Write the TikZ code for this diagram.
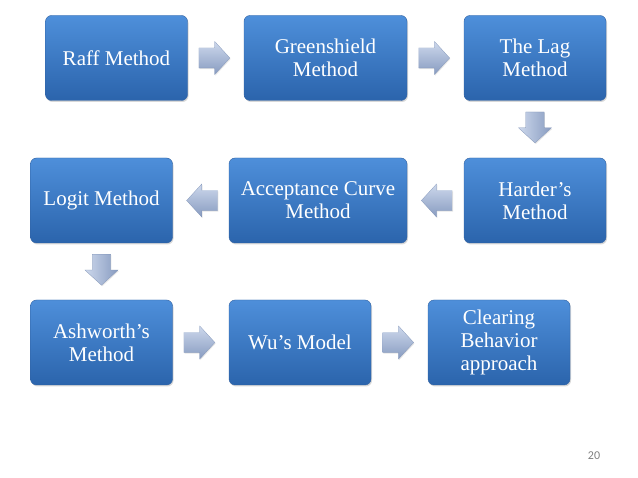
\documentclass[tikz,border=0pt]{standalone}
\usepackage{fontspec}
\setmainfont{Liberation Serif}
\newfontfamily\pagenofont{Carlito}
\usetikzlibrary{shapes.arrows,shadows}

\definecolor{boxtop}{RGB}{78,143,218}
\definecolor{boxbottom}{RGB}{43,100,172}
\definecolor{boxline}{RGB}{50,98,162}
\definecolor{arrowtop}{RGB}{205,216,236}
\definecolor{arrowbottom}{RGB}{135,155,192}
\definecolor{arrowline}{RGB}{125,145,182}

\begin{document}
\begin{tikzpicture}[
    x=1pt,y=-1pt,
    font=\fontsize{21}{23}\selectfont,
    box/.style={rectangle,rounded corners=6pt,align=center,text=white,
        minimum height=85pt,minimum width=142pt,inner sep=2pt,
        top color=boxtop,bottom color=boxbottom,draw=boxline,thin,
        drop shadow={opacity=.3,shadow xshift=1pt,shadow yshift=-1.5pt}},
    blockarrow/.style={single arrow,inner xsep=8pt,inner ysep=10pt,
        minimum width=33pt,minimum height=31pt,
        single arrow head extend=6.5pt,single arrow tip angle=95,
        draw=arrowline,very thin,top color=arrowtop,bottom color=arrowbottom,
        drop shadow={opacity=.2,shadow xshift=.8pt,shadow yshift=-1pt}},
    rarrow/.style={blockarrow,xshift=-6pt},
    larrow/.style={blockarrow,shape border rotate=180,xshift=6pt},
    darrow/.style={blockarrow,shape border rotate=270,shading angle=90,yshift=6pt},
    ]
    \useasboundingbox[fill=white] (0,0) rectangle (638,478);
    \node[box] (raff) at (116.5,58) {Raff Method};
    \node[box,minimum width=163pt] (green) at (325.5,58) {Greenshield\\Method};
    \node[box] (lag) at (535,58) {The Lag\\Method};
    \node[box] (harder) at (535,200.5) {Harder’s\\Method};
    \node[box,minimum width=178pt] (accept) at (318,200.5) {Acceptance Curve\\Method};
    \node[box] (logit) at (101.5,200.5) {Logit Method};
    \node[box] (ashworth) at (101.5,342.5) {Ashworth’s\\Method};
    \node[box] (wu) at (300,342.5) {Wu’s Model};
    \node[box] (clearing) at (499,342.5) {Clearing\\Behavior\\approach};
    \path 
        (raff) -- node[rarrow] {} (green)
        (green) -- node[rarrow] {} (lag)
        (lag) -- node[darrow] {} (harder)
        (harder) -- node[larrow] {} (accept)
        (accept) -- node[larrow] {} (logit)
        (logit) -- node[darrow] {} (ashworth)
        (ashworth) -- node[rarrow] {} (wu)
        (wu) -- node[rarrow] {} (clearing)
    ;
    \node[font=\pagenofont\fontsize{12}{14}\selectfont,text=gray] (pageno) at (594,456) {20};
\end{tikzpicture}
\end{document}
